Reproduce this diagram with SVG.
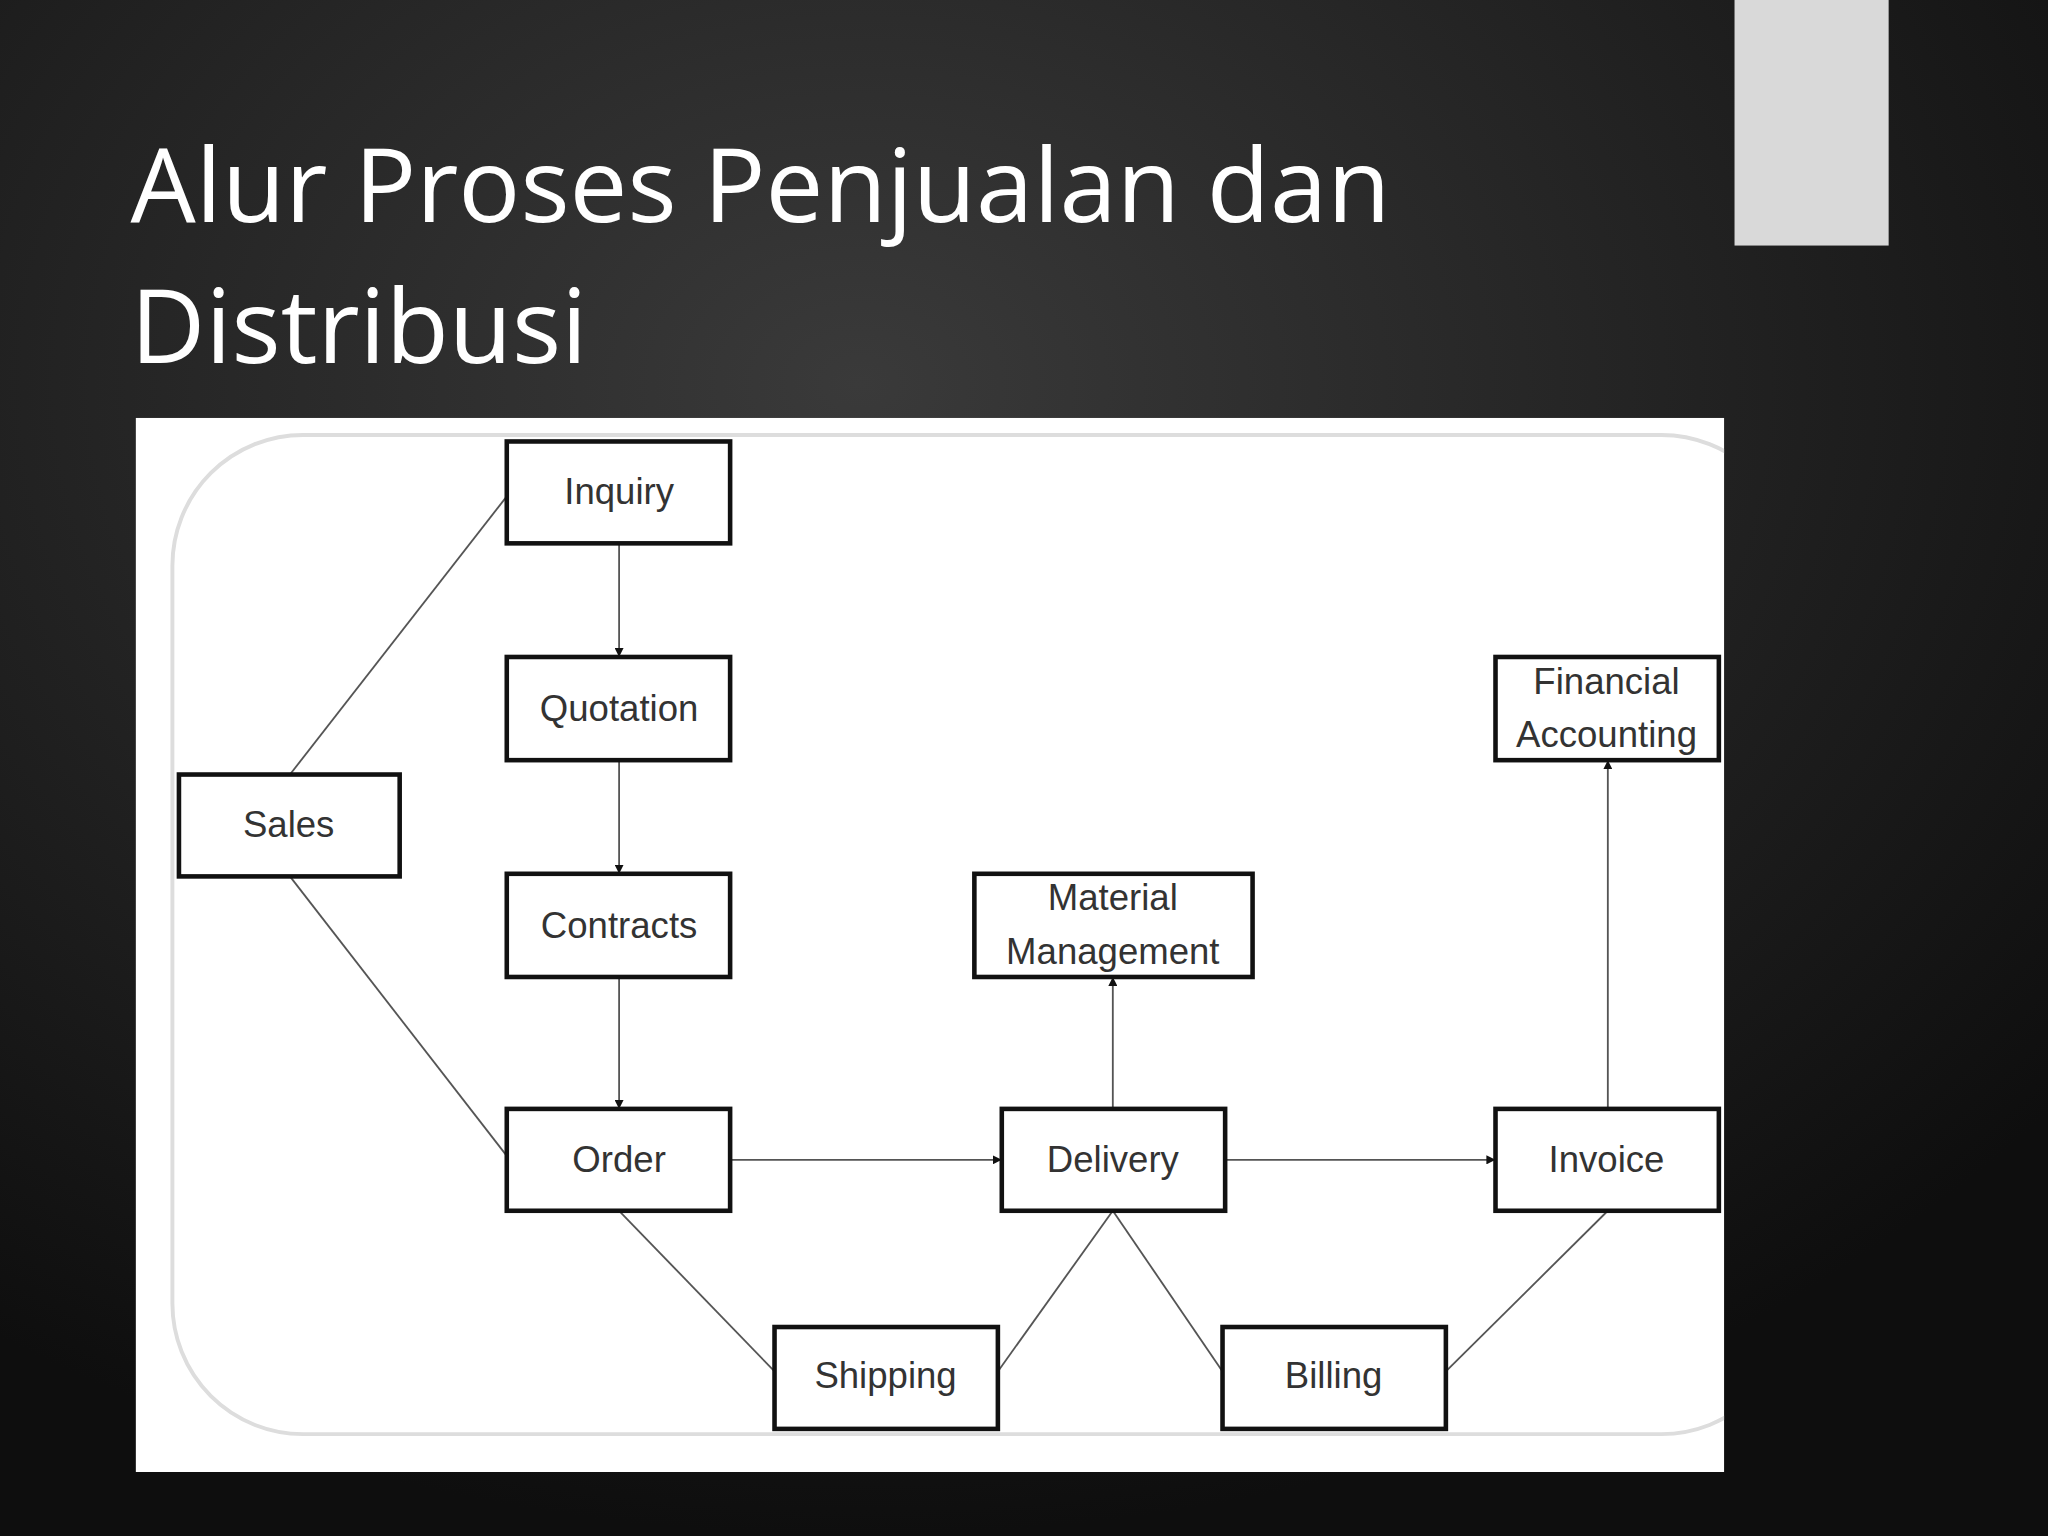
<svg xmlns="http://www.w3.org/2000/svg" width="2048" height="1536" viewBox="0 0 2048 1536">
<defs>
<radialGradient id="bg" cx="0.42" cy="0.25" r="0.75">
<stop offset="0" stop-color="#3a3a3a"/><stop offset="1" stop-color="#0e0e0e"/>
</radialGradient>
<clipPath id="pc"><rect x="104" y="320" width="1216" height="807"/></clipPath>
<marker id="ar" viewBox="0 0 10 10" refX="10" refY="5" markerWidth="5" markerHeight="5" orient="auto"><path d="M0,0L10,5L0,10z" fill="#111"/></marker>
<style>
.box{fill:#fff;stroke:#111;stroke-width:3.5}
.lbl{font-family:"Liberation Sans",Arial,sans-serif;font-size:28px;fill:#333;text-anchor:middle}
.ln{stroke:#555;stroke-width:1.4;fill:none}
.ttl{font-family:"Open Sans",sans-serif;font-size:79px;fill:#fff}
</style>
</defs>
<g transform="scale(1.30612)">
<rect width="1568" height="1176" fill="url(#bg)"/>
<rect x="1328" y="0" width="118" height="188" fill="#d9d9d9"/>
<text class="ttl" x="100" y="170">Alur Proses Penjualan dan</text>
<text class="ttl" x="100" y="278">Distribusi</text>
<rect x="104" y="320" width="1216" height="807" fill="#fff"/>
<rect x="132" y="333" width="1240" height="765" rx="100" fill="none" stroke="#ddd" stroke-width="3" clip-path="url(#pc)"/>
<g id="connectors">
<line class="ln" x1="222" y1="593" x2="388" y2="380"/>
<line class="ln" x1="222" y1="671" x2="388" y2="885"/>
<line class="ln" x1="474" y1="416" x2="474" y2="503" marker-end="url(#ar)"/>
<line class="ln" x1="474" y1="582" x2="474" y2="669" marker-end="url(#ar)"/>
<line class="ln" x1="474" y1="748" x2="474" y2="849" marker-end="url(#ar)"/>
<line class="ln" x1="559" y1="888" x2="767" y2="888" marker-end="url(#ar)"/>
<line class="ln" x1="938" y1="888" x2="1145" y2="888" marker-end="url(#ar)"/>
<line class="ln" x1="852" y1="849" x2="852" y2="748" marker-end="url(#ar)"/>
<line class="ln" x1="1231" y1="849" x2="1231" y2="582" marker-end="url(#ar)"/>
<line class="ln" x1="474" y1="927" x2="593" y2="1050"/>
<line class="ln" x1="764" y1="1050" x2="852" y2="927"/>
<line class="ln" x1="852" y1="927" x2="936" y2="1050"/>
<line class="ln" x1="1107" y1="1050" x2="1231" y2="927"/>
</g>
<g id="inquiry"><rect class="box" x="388" y="338" width="171" height="78"/><text class="lbl" x="474" y="386">Inquiry</text></g>
<g id="quotation"><rect class="box" x="388" y="503" width="171" height="79"/><text class="lbl" x="474" y="552">Quotation</text></g>
<g id="contracts"><rect class="box" x="388" y="669" width="171" height="79"/><text class="lbl" x="474" y="718">Contracts</text></g>
<g id="sales"><rect class="box" x="137" y="593" width="169" height="78"/><text class="lbl" x="221" y="641">Sales</text></g>
<g id="order"><rect class="box" x="388" y="849" width="171" height="78"/><text class="lbl" x="474" y="897">Order</text></g>
<g id="delivery"><rect class="box" x="767" y="849" width="171" height="78"/><text class="lbl" x="852" y="897">Delivery</text></g>
<g id="invoice"><rect class="box" x="1145" y="849" width="171" height="78"/><text class="lbl" x="1230" y="897">Invoice</text></g>
<g id="material"><rect class="box" x="746" y="669" width="213" height="79"/><text class="lbl" x="852" y="697">Material</text><text class="lbl" x="852" y="738">Management</text></g>
<g id="financial"><rect class="box" x="1145" y="503" width="171" height="79"/><text class="lbl" x="1230" y="531">Financial</text><text class="lbl" x="1230" y="572">Accounting</text></g>
<g id="shipping"><rect class="box" x="593" y="1016" width="171" height="78"/><text class="lbl" x="678" y="1063">Shipping</text></g>
<g id="billing"><rect class="box" x="936" y="1016" width="171" height="78"/><text class="lbl" x="1021" y="1063">Billing</text></g>
</g>
</svg>
